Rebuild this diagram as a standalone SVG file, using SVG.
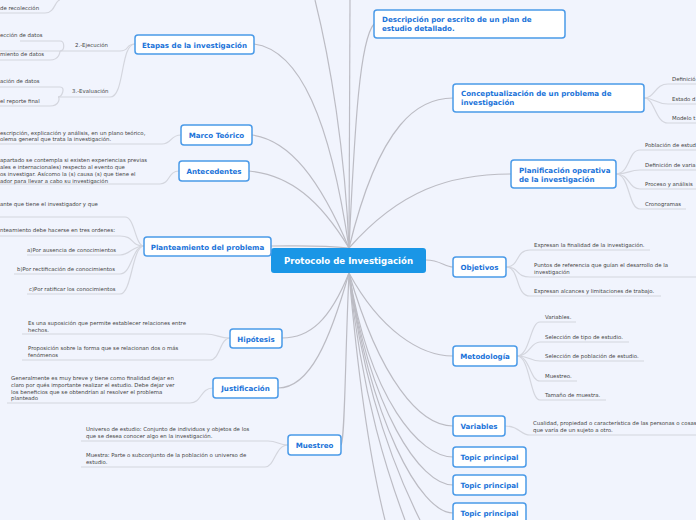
<svg xmlns="http://www.w3.org/2000/svg" width="696" height="520" viewBox="0 0 696 520">
<style>
.bg{fill:#f1f4fd}
.n rect{fill:#fff;stroke:#4a9ae8;stroke-width:1.5}
.n text{font-family:"DejaVu Sans",sans-serif;font-weight:bold;font-size:7.1px;fill:#1a73d9}
.l{font-family:"DejaVu Sans",sans-serif;font-size:5.4px;fill:#444}
.c path{fill:none;stroke:#bcbcc4;stroke-width:1.2}
.u path{fill:none;stroke:#d4d6de;stroke-width:1.2}
</style>
<rect class="bg" width="696" height="520"/>
<g class="c">
<path d="M349 248 C345 150 330 60 315 0"/>
<path d="M349 248 C349 150 350 60 350 0"/>
<path d="M349 248 C355 120 360 40 374 24"/>
<path d="M349 248 C330 120 300 50 254 44"/>
<path d="M349 248 C320 180 290 140 252 135"/>
<path d="M349 248 C320 200 290 175 249 171"/>
<path d="M349 248 C320 245 300 246 271 246"/>
<path d="M349 273 C330 320 310 338 282 338"/>
<path d="M349 273 C330 340 310 388 278 388"/>
<path d="M349 273 C345 360 345 440 341 445"/>
<path d="M426 260 C440 260 445 267 453 267"/>
<path d="M349 248 C380 120 420 98 453 98"/>
<path d="M349 248 C400 190 450 174 511 174"/>
<path d="M349 273 C380 330 420 356 453 356"/>
<path d="M349 273 C380 380 420 426 453 426"/>
<path d="M349 273 C370 400 420 457 453 457"/>
<path d="M349 273 C370 410 420 485 453 485"/>
<path d="M349 273 C370 420 420 513 453 513"/>
<path d="M349 273 C365 400 400 480 420 520"/>
<path d="M349 273 C362 400 390 480 405 520"/>
<path d="M349 273 C360 400 375 480 385 520"/>
</g>
<g class="u">
<path d="M0 13 H45 C55 13 55 0 60 0"/>
<path d="M20 41 H60 C65 41 65 51 60 51 H0"/>
<path d="M60 51 H120 C130 51 125 44 135 44"/>
<path d="M0 60 H50 C60 60 60 51 60 51"/>
<path d="M0 87 H60 C66 87 62 97 58 97"/>
<path d="M58 97 H110 C125 97 120 44 135 44"/>
<path d="M0 106 H50 C60 106 60 97 58 97"/>
<path d="M0 144 H162 C172 144 170 135 181 135"/>
<path d="M0 184 H160 C170 184 168 171 179 171"/>
<path d="M0 217 H125 C135 217 135 246 144 246"/>
<path d="M0 236 H120 C135 236 130 246 144 246"/>
<path d="M27 255 H120 C130 255 132 246 144 246"/>
<path d="M14 274 H120 C132 274 132 246 144 246"/>
<path d="M27 294 H120 C132 294 132 246 144 246"/>
<path d="M22 334 H205 C218 334 218 338 230 338"/>
<path d="M22 360 H210 C220 360 220 338 230 338"/>
<path d="M7 403 H190 C202 403 200 388 213 388"/>
<path d="M81 441 H268 C278 441 278 445 288 445"/>
<path d="M81 467 H265 C275 467 275 445 288 445"/>
<path d="M644 98 C655 98 655 84 668 84 H696"/>
<path d="M644 98 C655 98 655 104 668 104 H696"/>
<path d="M644 98 C655 98 655 123 668 123 H696"/>
<path d="M616 174 C630 174 628 150 640 150 H696"/>
<path d="M616 174 C630 174 628 170 640 170 H696"/>
<path d="M616 174 C630 174 628 189 640 189 H696"/>
<path d="M616 174 C630 174 628 209 640 209 H686"/>
<path d="M506 267 C520 267 515 250 530 250 H650"/>
<path d="M506 267 C520 267 515 277 530 277 H696"/>
<path d="M506 267 C520 267 515 296 530 296 H661"/>
<path d="M517 356 C530 356 530 322 540 322 H576"/>
<path d="M517 356 C530 356 530 342 540 342 H629"/>
<path d="M517 356 C530 356 530 361 540 361 H644"/>
<path d="M517 356 C530 356 530 381 540 381 H577"/>
<path d="M517 356 C530 356 530 400 540 400 H606"/>
<path d="M505 426 C520 426 520 435 530 435 H696"/>
</g>
<g id="center"><rect x="271" y="248" width="155" height="25" rx="3" fill="#1a96e6"/><text x="348.5" y="264" text-anchor="middle" font-family="DejaVu Sans,sans-serif" font-weight="bold" font-size="8.6px" fill="#fff">Protocolo de Investigación</text></g>
<g id="etapas" class="n"><rect x="135" y="35" width="119" height="19" rx="3"/><text x="194.5" y="47.5" text-anchor="middle">Etapas de la investigación</text></g>
<g id="marco" class="n"><rect x="181" y="125" width="71" height="20" rx="3"/><text x="216.5" y="138" text-anchor="middle">Marco Teórico</text></g>
<g id="antecedentes" class="n"><rect x="179" y="161" width="70" height="20" rx="3"/><text x="214" y="174" text-anchor="middle">Antecedentes</text></g>
<g id="planteamiento" class="n"><rect x="144" y="237" width="127" height="19" rx="3"/><text x="207.5" y="249.5" text-anchor="middle">Planteamiento del problema</text></g>
<g id="hipotesis" class="n"><rect x="230" y="329" width="52" height="19" rx="3"/><text x="256" y="341.5" text-anchor="middle">Hipótesis</text></g>
<g id="justificacion" class="n"><rect x="213" y="378" width="65" height="20" rx="3"/><text x="245.5" y="391" text-anchor="middle">Justificación</text></g>
<g id="muestreo" class="n"><rect x="288" y="435" width="53" height="20" rx="3"/><text x="314.5" y="448" text-anchor="middle">Muestreo</text></g>
<g id="descripcion" class="n"><rect x="374" y="10" width="191" height="28" rx="3"/><text x="382" y="21.5">Descripción por escrito de un plan de</text><text x="382" y="31">estudio detallado.</text></g>
<g id="conceptualizacion" class="n"><rect x="453" y="84" width="191" height="28" rx="3"/><text x="461" y="96">Conceptualización de un problema de</text><text x="461" y="105">investigación</text></g>
<g id="planificacion" class="n"><rect x="511" y="160" width="105" height="28" rx="3"/><text x="519" y="172.5">Planificación operativa</text><text x="519" y="182">de la investigación</text></g>
<g id="objetivos" class="n"><rect x="453" y="257" width="53" height="20" rx="3"/><text x="479.5" y="270" text-anchor="middle">Objetivos</text></g>
<g id="metodologia" class="n"><rect x="453" y="346" width="64" height="20" rx="3"/><text x="485" y="359" text-anchor="middle">Metodología</text></g>
<g id="variables" class="n"><rect x="453" y="416" width="52" height="20" rx="3"/><text x="479" y="429" text-anchor="middle">Variables</text></g>
<g id="topic1" class="n"><rect x="453" y="447" width="73" height="20" rx="3"/><text x="489.5" y="460" text-anchor="middle">Topic principal</text></g>
<g id="topic2" class="n"><rect x="453" y="475" width="73" height="20" rx="3"/><text x="489.5" y="488" text-anchor="middle">Topic principal</text></g>
<g id="topic3" class="n"><rect x="453" y="503" width="73" height="20" rx="3"/><text x="489.5" y="516" text-anchor="middle">Topic principal</text></g>
<g id="leaves">
<text class="l" x="0" y="10">de recolección</text>
<text class="l" x="75" y="47">2.-Ejecución</text>
<text class="l" x="0" y="37">ección de datos</text>
<text class="l" x="0" y="56">miento de datos</text>
<text class="l" x="72" y="93">3.-Evaluación</text>
<text class="l" x="0" y="83">ación de datos</text>
<text class="l" x="0" y="103">el reporte final</text>
<text class="l" x="0" y="135">escripción, explicación y análisis, en un plano teórico,</text>
<text class="l" x="0" y="141">olema general que trata la investigación.</text>
<text class="l" x="0" y="162">apartado se contempla si existen experiencias previas</text>
<text class="l" x="0" y="169">ales e internacionales) respecto al evento que</text>
<text class="l" x="0" y="176">os investigar.  Asícomo la (s) causa (s) que tiene el</text>
<text class="l" x="0" y="183">ador para llevar a cabo su investigación</text>
<text class="l" x="0" y="206">ante que tiene el investigador y que</text>
<text class="l" x="0" y="232">nteamiento debe hacerse en tres ordenes:</text>
<text class="l" x="27" y="252">a)Por ausencia de conocimientos</text>
<text class="l" x="17" y="271">b)Por rectificación de conocimientos</text>
<text class="l" x="29" y="291">c)Por ratificar los conocimientos</text>
<text class="l" x="28" y="325">Es una suposición que permite establecer relaciones entre</text>
<text class="l" x="28" y="332">hechos.</text>
<text class="l" x="28" y="350">Proposición sobre la forma que se relacionan dos o más</text>
<text class="l" x="28" y="357">fenómenos</text>
<text class="l" x="11" y="380">Generalmente es muy breve y tiene como finalidad dejar en</text>
<text class="l" x="11" y="387">claro por qués importante realizar el estudio. Debe dejar ver</text>
<text class="l" x="11" y="394">los beneficios que se obtendrían al resolver el problema</text>
<text class="l" x="11" y="400">planteado</text>
<text class="l" x="86" y="431">Universo de estudio:  Conjunto de individuos y objetos de los</text>
<text class="l" x="86" y="438">que se desea conocer algo en la investigación.</text>
<text class="l" x="86" y="457">Muestra:  Parte o subconjunto de la población o universo de</text>
<text class="l" x="86" y="464">estudio.</text>
<text class="l" x="672" y="81">Definició</text>
<text class="l" x="672" y="101">Estado d</text>
<text class="l" x="672" y="120">Modelo t</text>
<text class="l" x="645" y="147">Población de estud</text>
<text class="l" x="645" y="167">Definición de varia</text>
<text class="l" x="645" y="186">Proceso y análisis</text>
<text class="l" x="645" y="206">Cronogramas</text>
<text class="l" x="534" y="247">Expresan la finalidad de la investigación.</text>
<text class="l" x="534" y="267">Puntos de referencia que guían el desarrollo de la</text>
<text class="l" x="534" y="274">investigación</text>
<text class="l" x="534" y="293">Expresan alcances y limitaciones de trabajo.</text>
<text class="l" x="545" y="319">Variables.</text>
<text class="l" x="545" y="339">Selección de tipo de estudio.</text>
<text class="l" x="545" y="358">Selección de población de estudio.</text>
<text class="l" x="545" y="378">Muestreo.</text>
<text class="l" x="545" y="397">Tamaño de muestra.</text>
<text class="l" x="533" y="425">Cualidad, propiedad o característica de las personas o cosas</text>
<text class="l" x="533" y="432">que varía de un sujeto a otro.</text>
</g>
</svg>
